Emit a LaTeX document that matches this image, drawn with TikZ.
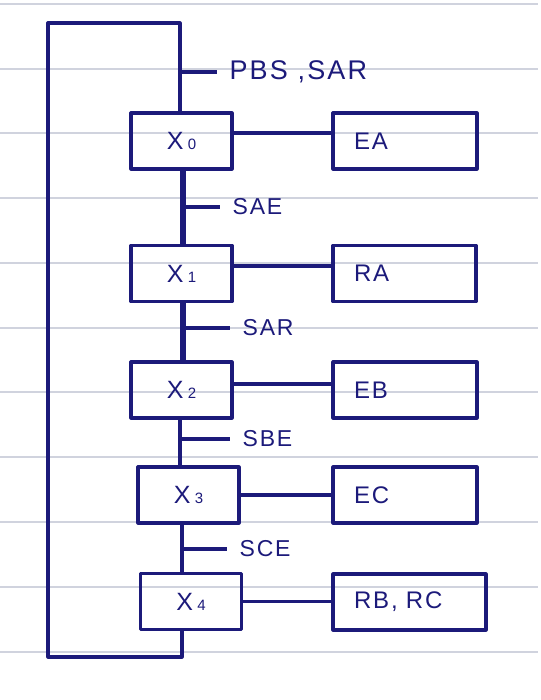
\documentclass[tikz,border=0pt]{standalone}
\usepackage{fontspec}
\setmainfont{Liberation Sans}[LetterSpace=8]
\usepackage{xcolor}
\usetikzlibrary{positioning,calc}
\definecolor{ink}{RGB}{28,26,122}
\definecolor{ruling}{RGB}{208,211,222}

\begin{document}
\begin{tikzpicture}[x=1pt, y=-1pt, line join=round,
    link/.style={draw=ink, line width=3.2pt},
    etape/.style={draw=ink, line width=3.2pt, minimum width=101pt, minimum height=56pt, inner sep=0pt, text=ink, font=\fontsize{25}{25}\selectfont},
    action/.style={draw=ink, line width=3.2pt, minimum height=56pt, inner xsep=21pt, inner ysep=0pt, align=left, text=ink, font=\fontsize{24}{24}\selectfont},
    trans/.style={right=11pt, inner sep=0pt, text=ink, font=\fontsize{23}{23}\selectfont}]
    \useasboundingbox (0,0) rectangle (540,700);
    \foreach \y in {4,69,133,198,263,328,392,457,522,587,652}{\draw[ruling, line width=1.3pt] (0,\y) -- (538,\y);}

    \foreach \i/\x/\y in {0/181.5/141, 1/181.5/273.5, 2/181.5/390, 3/188.5/495, 4/191/601.5}{\node[etape] (x\i) at (\x,\y) {X\,{\fontsize{15}{15}\selectfont\i}};}
    \foreach \i/\x/\y/\tw/\txt in {0/405/141/102/EA, 1/404.5/273.5/101/RA, 2/405/390/102/EB, 3/405/495/102/EC, 4/409.5/602/111/{RB, RC}}{\node[action, text width=\tw pt] (a\i) at (\x,\y) {\txt};}
    \foreach \i/\dy in {0/8,1/7.5,2/6,3/0,4/0}{\draw[link] ([yshift=\dy pt]x\i.east) -- ([yshift=\dy pt]x\i.east -| a\i.west);}

    \coordinate (t0) at (180,72);
    \coordinate (t1) at (183,207);
    \coordinate (t2) at (183,328);
    \coordinate (t3) at (180,439);
    \coordinate (t4) at (182,549);
    \coordinate (lb) at (48,657);
    \coordinate (lt) at (48,23);

    \draw[link, line width=5.5pt] (x0.south -| t1) -- (x1.north -| t1);
    \draw[link, line width=5.5pt] (x1.south -| t2) -- (x2.north -| t2);
    \draw[link] (x2.south -| t3) -- (x3.north -| t3);
    \draw[link] (x3.south -| t4) -- (x4.north -| t4);
    \draw[link] (x4.south -| t4) |- (lb) -- (lt) -| (x0.north -| t0);

    \draw[link] (t0) -- ++(37,0) node[trans, font=\fontsize{27}{27}\selectfont] (c0) {PBS ,SAR};
    \foreach \i/\len/\txt in {1/37/SAE, 2/47/SAR, 3/50/SBE, 4/45/SCE}{\draw[link] (t\i) -- ++(\len,0) node[trans] (c\i) {\txt};}
\end{tikzpicture}
\end{document}
